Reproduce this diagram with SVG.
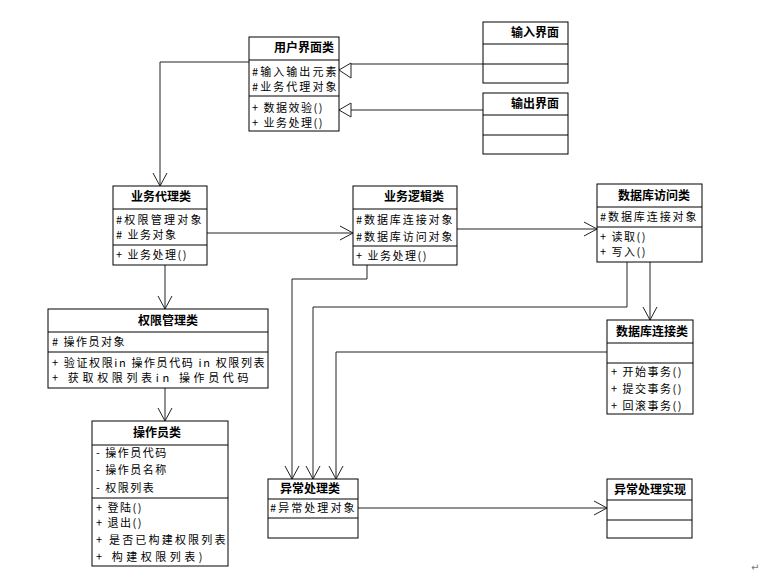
<svg xmlns="http://www.w3.org/2000/svg" width="768" height="579" viewBox="0 0 768 579">
<style>
.box{fill:#fff;stroke:#000;stroke-width:1}
.sep{stroke:#000;stroke-width:1}
.t{font-family:"Noto Sans CJK SC","Noto Sans",sans-serif;font-size:12px;font-weight:bold;fill:#000;text-anchor:middle}
.i{font-family:"Noto Sans CJK SC","Noto Sans",sans-serif;font-size:11px;fill:#000;letter-spacing:1.5px}
.c{fill:none;stroke:#222;stroke-width:1}
.tri{fill:#fff;stroke:#222;stroke-width:1}
</style>
<defs>
<marker id="v" markerUnits="userSpaceOnUse" markerWidth="20" markerHeight="20" viewBox="-15 -10 20 20" refX="0" refY="0" orient="auto">
<path d="M-13,-7 L0,0 L-13,7" fill="none" stroke="#222" stroke-width="1"/>
</marker>
</defs>
<rect width="768" height="579" fill="#fff"/>

<g id="connectors">
<path class="c" d="M249,62 H160 V186" marker-end="url(#v)"/>
<path class="c" d="M207,233 H353" marker-end="url(#v)"/>
<path class="c" d="M165,265 V309" marker-end="url(#v)"/>
<path class="c" d="M457,229 H597" marker-end="url(#v)"/>
<path class="c" d="M650,262 V320" marker-end="url(#v)"/>
<path class="c" d="M165,388 V421" marker-end="url(#v)"/>
<path class="c" d="M367,265 V279 H292 V479" marker-end="url(#v)"/>
<path class="c" d="M627,262 V307 H313 V479" marker-end="url(#v)"/>
<path class="c" d="M607,352 H336 V479" marker-end="url(#v)"/>
<path class="c" d="M358,508 H607" marker-end="url(#v)"/>
<path class="c" d="M483,64 H351"/>
<polygon class="tri" points="339,70 351,63 351,78"/>
<path class="c" d="M483,110 H351"/>
<polygon class="tri" points="339,110 351,103 351,117"/>
</g>

<g id="ui">
<rect class="box" x="249" y="37" width="90" height="94"/>
<line class="sep" x1="249" y1="60" x2="339" y2="60"/>
<line class="sep" x1="249" y1="96" x2="339" y2="96"/>
<text class="t" x="304" y="52">用户界面类</text>
<text class="i" x="252" y="76" textLength="86" lengthAdjust="spacing">#输入输出元素</text>
<text class="i" x="252" y="91" textLength="86" lengthAdjust="spacing">#业务代理对象</text>
<text class="i" x="252" y="112">+ 数据效验()</text>
<text class="i" x="252" y="127">+ 业务处理()</text>
</g>

<g id="input">
<rect class="box" x="483" y="22" width="85" height="61"/>
<line class="sep" x1="483" y1="44" x2="568" y2="44"/>
<line class="sep" x1="483" y1="64" x2="568" y2="64"/>
<text class="t" x="535" y="37">输入界面</text>
</g>

<g id="output">
<rect class="box" x="483" y="93" width="85" height="61"/>
<line class="sep" x1="483" y1="115" x2="568" y2="115"/>
<line class="sep" x1="483" y1="135" x2="568" y2="135"/>
<text class="t" x="535" y="108">输出界面</text>
</g>

<g id="agent">
<rect class="box" x="113" y="186" width="94" height="79"/>
<line class="sep" x1="113" y1="209" x2="207" y2="209"/>
<line class="sep" x1="113" y1="245" x2="207" y2="245"/>
<text class="t" x="161" y="201">业务代理类</text>
<text class="i" x="116" y="224" textLength="87" lengthAdjust="spacing">#权限管理对象</text>
<text class="i" x="116" y="239"># 业务对象</text>
<text class="i" x="116" y="259">+ 业务处理()</text>
</g>

<g id="logic">
<rect class="box" x="353" y="186" width="104" height="79"/>
<line class="sep" x1="353" y1="209" x2="457" y2="209"/>
<line class="sep" x1="353" y1="246" x2="457" y2="246"/>
<text class="t" x="414" y="201">业务逻辑类</text>
<text class="i" x="356" y="224" textLength="98" lengthAdjust="spacing">#数据库连接对象</text>
<text class="i" x="356" y="241" textLength="98" lengthAdjust="spacing">#数据库访问对象</text>
<text class="i" x="356" y="260">+ 业务处理()</text>
</g>

<g id="dbaccess">
<rect class="box" x="597" y="184" width="105" height="78"/>
<line class="sep" x1="597" y1="207" x2="702" y2="207"/>
<line class="sep" x1="597" y1="227" x2="702" y2="227"/>
<text class="t" x="654" y="200">数据库访问类</text>
<text class="i" x="600" y="221" textLength="98" lengthAdjust="spacing">#数据库连接对象</text>
<text class="i" x="600" y="241">+ 读取()</text>
<text class="i" x="600" y="256">+ 写入()</text>
</g>

<g id="dbconn">
<rect class="box" x="607" y="320" width="86" height="94"/>
<line class="sep" x1="607" y1="343" x2="693" y2="343"/>
<line class="sep" x1="607" y1="363" x2="693" y2="363"/>
<text class="t" x="652" y="336">数据库连接类</text>
<text class="i" x="611" y="376">+ 开始事务()</text>
<text class="i" x="611" y="393">+ 提交事务()</text>
<text class="i" x="611" y="410">+ 回滚事务()</text>
</g>

<g id="perm">
<rect class="box" x="48" y="309" width="220" height="79"/>
<line class="sep" x1="48" y1="332" x2="268" y2="332"/>
<line class="sep" x1="48" y1="352" x2="268" y2="352"/>
<text class="t" x="168" y="325">权限管理类</text>
<text class="i" x="52" y="346"># 操作员对象</text>
<text class="i" x="52" y="367" textLength="214" lengthAdjust="spacing">+ 验证权限in  操作员代码 in  权限列表</text>
<text class="i" x="52" y="382" textLength="198" lengthAdjust="spacing">+  获取权限列表in  操作员代码</text>
</g>

<g id="operator">
<rect class="box" x="92" y="421" width="136" height="145"/>
<line class="sep" x1="92" y1="445" x2="228" y2="445"/>
<line class="sep" x1="92" y1="498" x2="228" y2="498"/>
<text class="t" x="157" y="437">操作员类</text>
<text class="i" x="96" y="457">-  操作员代码</text>
<text class="i" x="96" y="474">-  操作员名称</text>
<text class="i" x="96" y="492">-  权限列表</text>
<text class="i" x="96" y="512">+ 登陆()</text>
<text class="i" x="96" y="527">+ 退出()</text>
<text class="i" x="96" y="544" textLength="131" lengthAdjust="spacing">+   是否已构建权限列表</text>
<text class="i" x="96" y="561" textLength="108" lengthAdjust="spacing">+  构建权限列表)</text>
</g>

<g id="exc">
<rect class="box" x="268" y="479" width="90" height="59"/>
<line class="sep" x1="268" y1="499" x2="358" y2="499"/>
<line class="sep" x1="268" y1="518" x2="358" y2="518"/>
<text class="t" x="310" y="493">异常处理类</text>
<text class="i" x="270" y="512" textLength="86" lengthAdjust="spacing">#异常处理对象</text>
</g>

<g id="excimpl">
<rect class="box" x="607" y="479" width="85" height="59"/>
<line class="sep" x1="607" y1="500" x2="692" y2="500"/>
<line class="sep" x1="607" y1="520" x2="692" y2="520"/>
<text class="t" x="650" y="494">异常处理实现</text>
</g>

<text x="751" y="571" font-family="DejaVu Sans,sans-serif" font-size="10" fill="#777">↵</text>
</svg>
